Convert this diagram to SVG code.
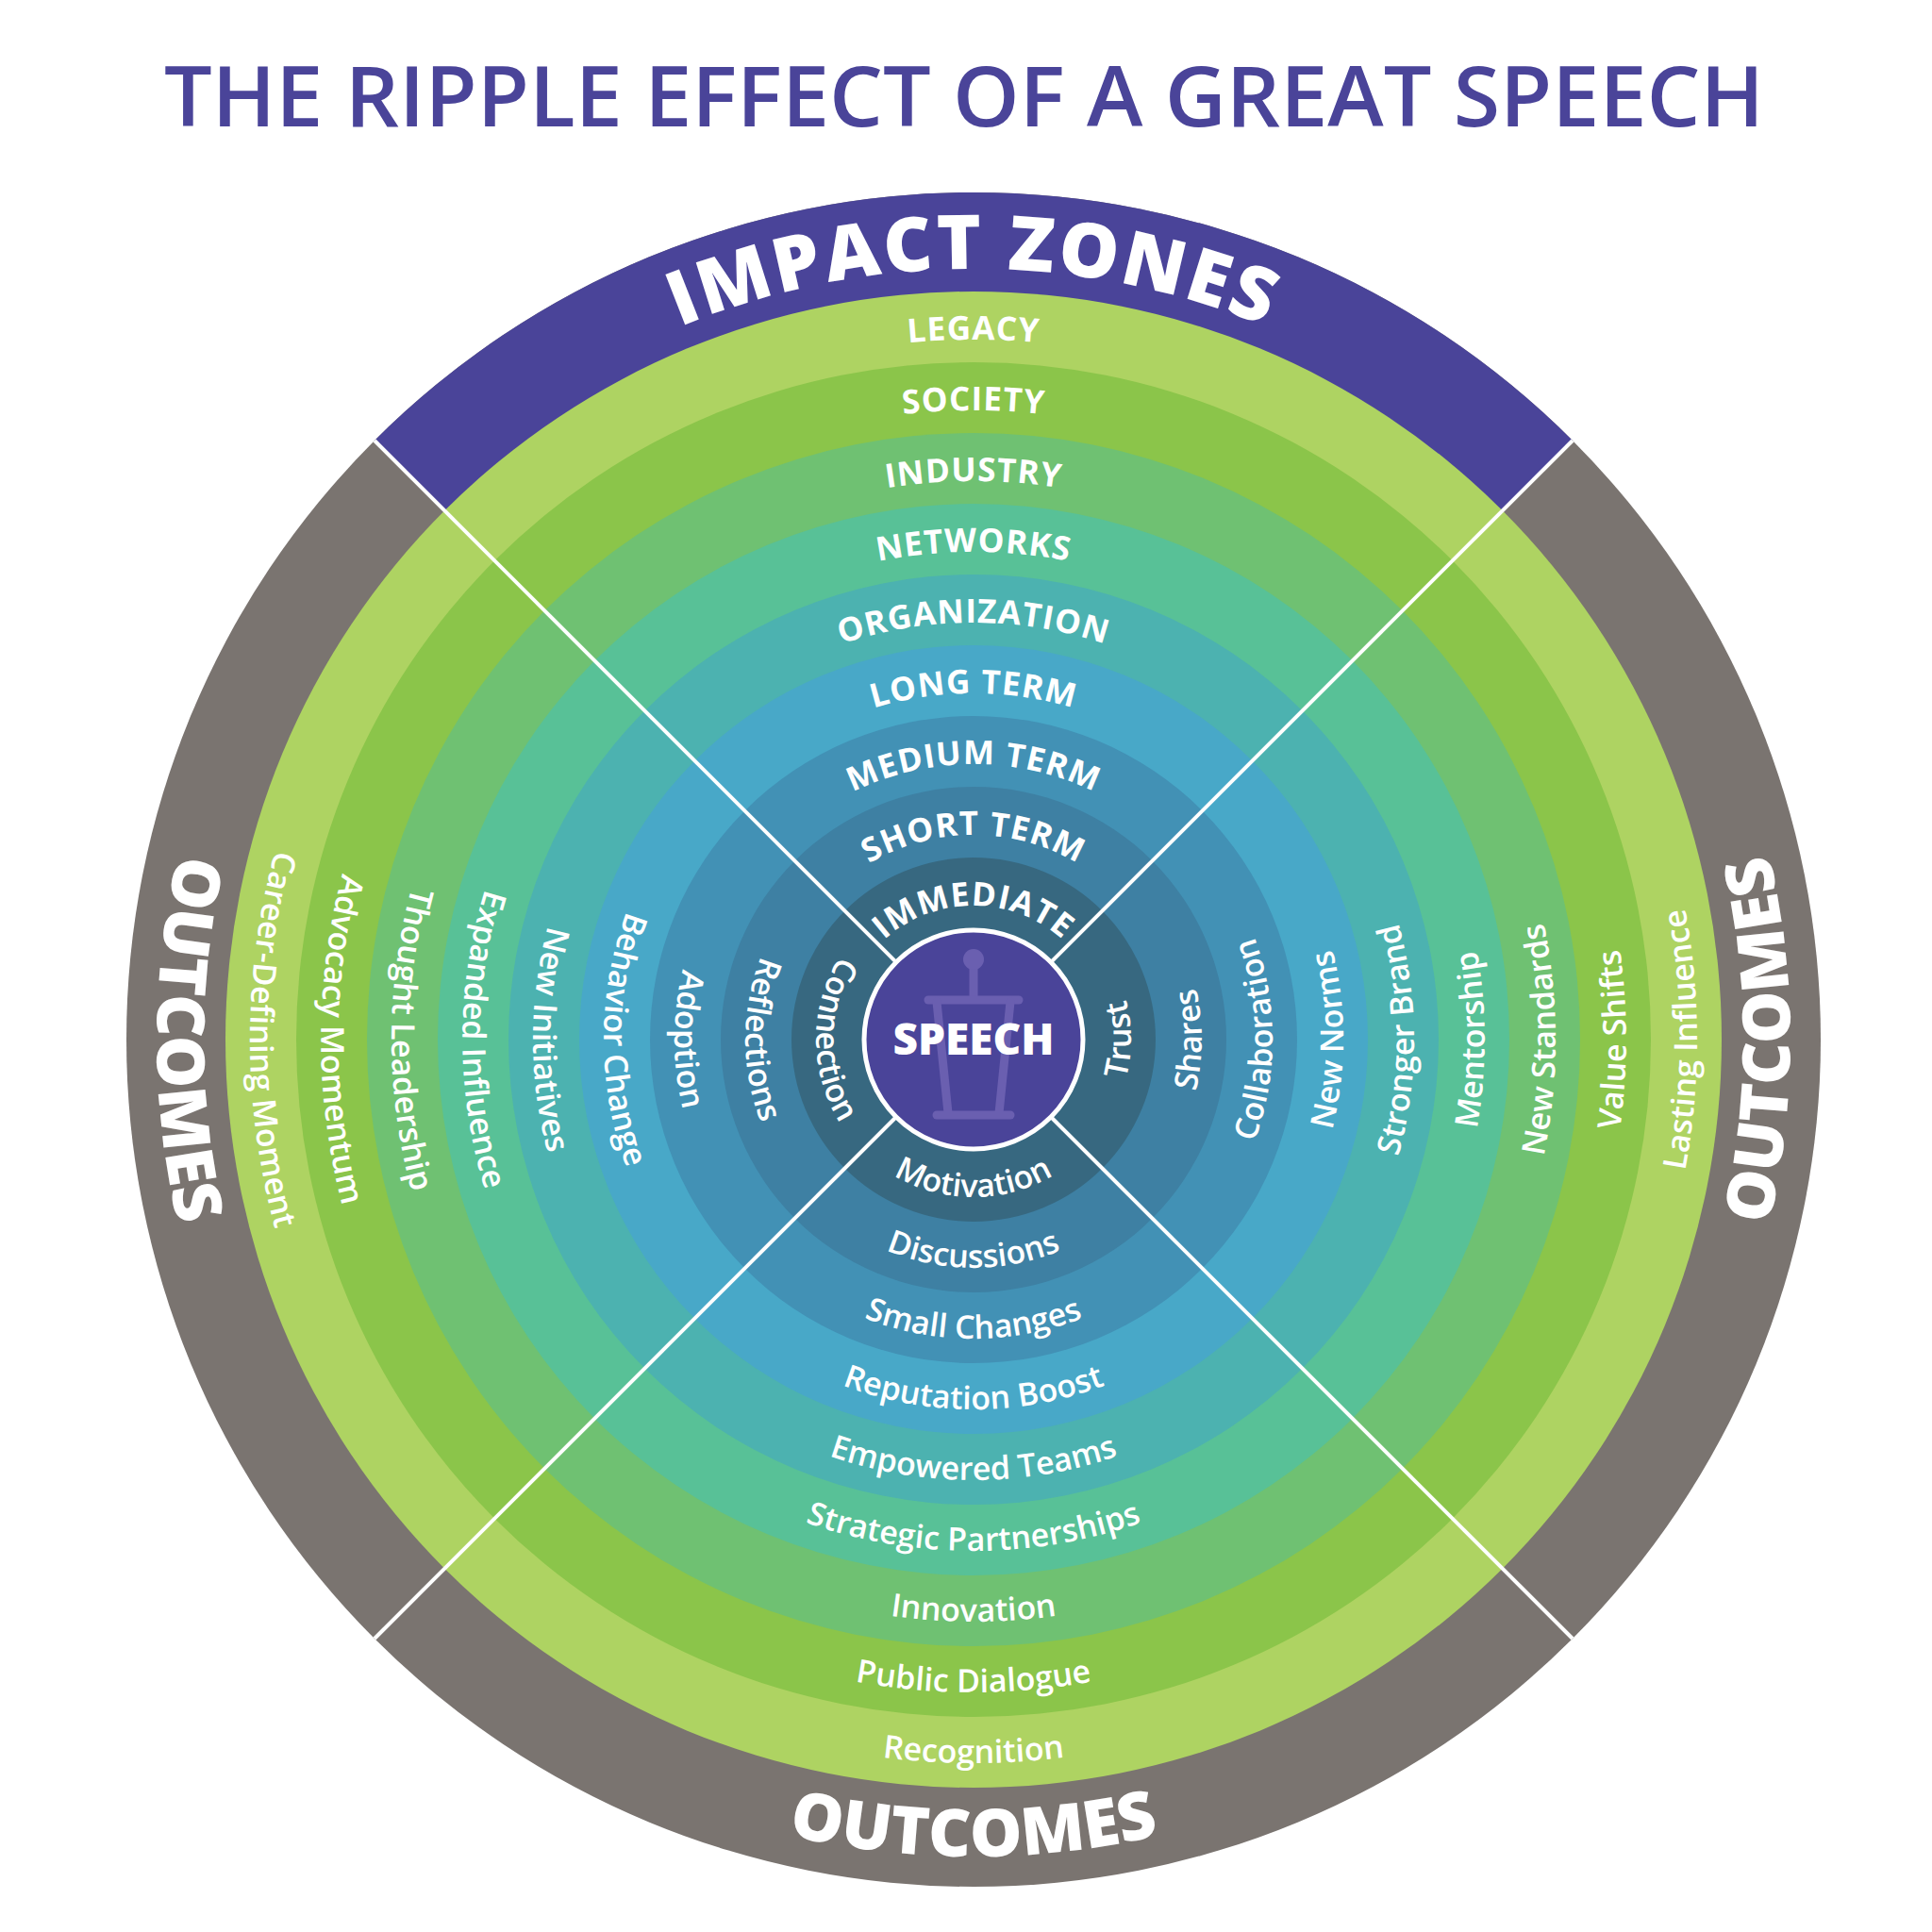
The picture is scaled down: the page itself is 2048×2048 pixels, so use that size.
<svg xmlns="http://www.w3.org/2000/svg" width="2048" height="2048" viewBox="0 0 2048 2048">
<style>
.t{font-family:"Open Sans","Liberation Sans",sans-serif;fill:#fff;text-anchor:middle}
.up{font-size:35px;font-weight:700;letter-spacing:1px}
.lo{font-size:34px;font-weight:600}
.big{font-weight:800}
</style>
<defs>
<path id="t1" d="M890 1102A142 142 0 0 1 1174 1102"/><path id="t2" d="M815 1102A217 217 0 0 1 1249 1102"/><path id="t3" d="M740 1102A292 292 0 0 1 1324 1102"/><path id="t4" d="M665 1102A367 367 0 0 1 1399 1102"/><path id="t5" d="M590 1102A442 442 0 0 1 1474 1102"/><path id="t6" d="M515 1102A517 517 0 0 1 1549 1102"/><path id="t7" d="M440 1102A592 592 0 0 1 1624 1102"/><path id="t8" d="M365 1102A667 667 0 0 1 1699 1102"/><path id="t9" d="M290 1102A742 742 0 0 1 1774 1102"/><path id="t10" d="M215 1102A817 817 0 0 1 1849 1102"/>
<path id="b1" d="M865 1102A167 167 0 0 0 1199 1102"/><path id="b2" d="M790 1102A242 242 0 0 0 1274 1102"/><path id="b3" d="M715 1102A317 317 0 0 0 1349 1102"/><path id="b4" d="M640 1102A392 392 0 0 0 1424 1102"/><path id="b5" d="M565 1102A467 467 0 0 0 1499 1102"/><path id="b6" d="M490 1102A542 542 0 0 0 1574 1102"/><path id="b7" d="M415 1102A617 617 0 0 0 1649 1102"/><path id="b8" d="M340 1102A692 692 0 0 0 1724 1102"/><path id="b9" d="M265 1102A767 767 0 0 0 1799 1102"/><path id="b10" d="M166 1102A866 866 0 0 0 1898 1102"/>
<path id="l1" d="M1032 935A167 167 0 0 0 1032 1269"/><path id="l2" d="M1032 860A242 242 0 0 0 1032 1344"/><path id="l3" d="M1032 785A317 317 0 0 0 1032 1419"/><path id="l4" d="M1032 710A392 392 0 0 0 1032 1494"/><path id="l5" d="M1032 635A467 467 0 0 0 1032 1569"/><path id="l6" d="M1032 560A542 542 0 0 0 1032 1644"/><path id="l7" d="M1032 485A617 617 0 0 0 1032 1719"/><path id="l8" d="M1032 410A692 692 0 0 0 1032 1794"/><path id="l9" d="M1032 335A767 767 0 0 0 1032 1869"/><path id="l10" d="M1032 236A866 866 0 0 0 1032 1968"/>
<path id="r1" d="M1032 1269A167 167 0 0 0 1032 935"/><path id="r2" d="M1032 1344A242 242 0 0 0 1032 860"/><path id="r3" d="M1032 1419A317 317 0 0 0 1032 785"/><path id="r4" d="M1032 1494A392 392 0 0 0 1032 710"/><path id="r5" d="M1032 1569A467 467 0 0 0 1032 635"/><path id="r6" d="M1032 1644A542 542 0 0 0 1032 560"/><path id="r7" d="M1032 1719A617 617 0 0 0 1032 485"/><path id="r8" d="M1032 1794A692 692 0 0 0 1032 410"/><path id="r9" d="M1032 1869A767 767 0 0 0 1032 335"/><path id="r10" d="M1032 1968A866 866 0 0 0 1032 236"/>
</defs>
<rect width="2048" height="2048" fill="#fff"/>
<text x="1022" y="134" font-family="'Open Sans','Liberation Sans',sans-serif" font-size="88" font-weight="600" fill="#4a4499" text-anchor="middle" textLength="1696" lengthAdjust="spacingAndGlyphs">THE RIPPLE EFFECT OF A GREAT SPEECH</text>
<g id="rings">
<circle cx="1032" cy="1102" r="898" fill="#7a7470"/>
<path d="M1032 1102L397 467A898 898 0 0 1 1667 467Z" fill="#4a4499"/>
<circle cx="1032" cy="1102" r="793" fill="#aed362"/>
<circle cx="1032" cy="1102" r="718" fill="#8bc54a"/>
<circle cx="1032" cy="1102" r="643" fill="#6fc172"/>
<circle cx="1032" cy="1102" r="568" fill="#58c197"/>
<circle cx="1032" cy="1102" r="493" fill="#4cb2b0"/>
<circle cx="1032" cy="1102" r="418" fill="#48a8c8"/>
<circle cx="1032" cy="1102" r="343" fill="#4291b5"/>
<circle cx="1032" cy="1102" r="268" fill="#3e80a3"/>
<circle cx="1032" cy="1102" r="193" fill="#376880"/>
</g>
<g id="connectors" stroke="#fff" stroke-width="4">
<line x1="950" y1="1020" x2="397" y2="467"/><line x1="1114" y1="1020" x2="1667" y2="467"/><line x1="950" y1="1184" x2="397" y2="1737"/><line x1="1114" y1="1184" x2="1667" y2="1737"/>
</g>
<g id="speech">
<circle cx="1032" cy="1102" r="116" fill="#4a4499" stroke="#fff" stroke-width="5"/>
<g stroke="#6a5fb0" stroke-width="9" stroke-linecap="round" fill="none">
<line x1="1032" y1="1017" x2="1032" y2="1058"/><line x1="984" y1="1060" x2="1080" y2="1060"/><line x1="993" y1="1062" x2="1005" y2="1180"/><line x1="1071" y1="1062" x2="1059" y2="1180"/><line x1="993" y1="1182" x2="1071" y2="1182"/>
</g>
<circle cx="1032" cy="1017" r="11" fill="#6a5fb0"/>
<text class="t big" x="1032" y="1118" font-size="46">SPEECH</text>
</g>
<g id="top" class="t up">
<text><textPath href="#t1" startOffset="50%">IMMEDIATE</textPath></text>
<text><textPath href="#t2" startOffset="50%">SHORT TERM</textPath></text>
<text><textPath href="#t3" startOffset="50%">MEDIUM TERM</textPath></text>
<text><textPath href="#t4" startOffset="50%">LONG TERM</textPath></text>
<text><textPath href="#t5" startOffset="50%">ORGANIZATION</textPath></text>
<text><textPath href="#t6" startOffset="50%">NETWORKS</textPath></text>
<text><textPath href="#t7" startOffset="50%">INDUSTRY</textPath></text>
<text><textPath href="#t8" startOffset="50%">SOCIETY</textPath></text>
<text><textPath href="#t9" startOffset="50%">LEGACY</textPath></text>
<text class="big" font-size="80" letter-spacing="3"><textPath href="#t10" startOffset="50%">IMPACT ZONES</textPath></text>
</g>
<g id="bottom" class="t lo">
<text><textPath href="#b1" startOffset="50%">Motivation</textPath></text>
<text><textPath href="#b2" startOffset="50%">Discussions</textPath></text>
<text><textPath href="#b3" startOffset="50%">Small Changes</textPath></text>
<text><textPath href="#b4" startOffset="50%">Reputation Boost</textPath></text>
<text><textPath href="#b5" startOffset="50%">Empowered Teams</textPath></text>
<text><textPath href="#b6" startOffset="50%">Strategic Partnerships</textPath></text>
<text><textPath href="#b7" startOffset="50%">Innovation</textPath></text>
<text><textPath href="#b8" startOffset="50%">Public Dialogue</textPath></text>
<text><textPath href="#b9" startOffset="50%">Recognition</textPath></text>
<text class="big" font-size="70"><textPath href="#b10" startOffset="50%">OUTCOMES</textPath></text>
</g>
<g id="left" class="t lo">
<text><textPath href="#l1" startOffset="50%">Connection</textPath></text>
<text><textPath href="#l2" startOffset="50%">Reflections</textPath></text>
<text><textPath href="#l3" startOffset="50%">Adoption</textPath></text>
<text><textPath href="#l4" startOffset="50%">Behavior Change</textPath></text>
<text><textPath href="#l5" startOffset="50%">New Initiatives</textPath></text>
<text><textPath href="#l6" startOffset="50%">Expanded Influence</textPath></text>
<text><textPath href="#l7" startOffset="50%">Thought Leadership</textPath></text>
<text><textPath href="#l8" startOffset="50%">Advocacy Momentum</textPath></text>
<text><textPath href="#l9" startOffset="50%">Career-Defining Moment</textPath></text>
<text class="big" font-size="70"><textPath href="#l10" startOffset="50%">OUTCOMES</textPath></text>
</g>
<g id="right" class="t lo">
<text><textPath href="#r1" startOffset="50%">Trust</textPath></text>
<text><textPath href="#r2" startOffset="50%">Shares</textPath></text>
<text><textPath href="#r3" startOffset="50%">Collaboration</textPath></text>
<text><textPath href="#r4" startOffset="50%">New Norms</textPath></text>
<text><textPath href="#r5" startOffset="50%">Stronger Brand</textPath></text>
<text><textPath href="#r6" startOffset="50%">Mentorship</textPath></text>
<text><textPath href="#r7" startOffset="50%">New Standards</textPath></text>
<text><textPath href="#r8" startOffset="50%">Value Shifts</textPath></text>
<text><textPath href="#r9" startOffset="50%">Lasting Influence</textPath></text>
<text class="big" font-size="70"><textPath href="#r10" startOffset="50%">OUTCOMES</textPath></text>
</g>
</svg>
